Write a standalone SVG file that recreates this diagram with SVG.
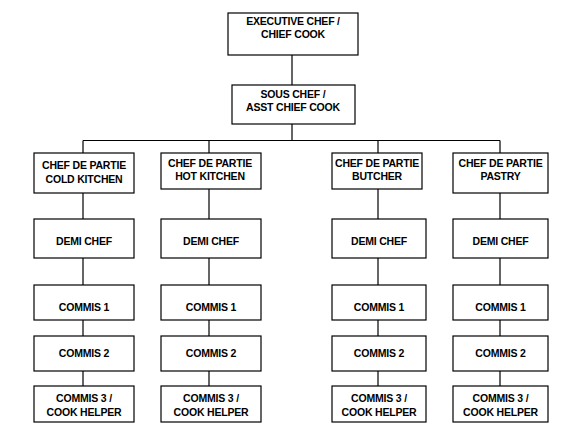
<svg xmlns="http://www.w3.org/2000/svg" width="568" height="433" viewBox="0 0 568 433">
<style>
.box{fill:#fff;stroke:#000;stroke-width:1.2}
.ln{stroke:#000;stroke-width:1.2;fill:none}
text{font-family:"Liberation Sans",Arial,sans-serif;font-weight:bold;font-size:10.5px;fill:#000;text-anchor:middle;letter-spacing:-0.2px}
</style>
<rect width="568" height="433" fill="#fff"/>
<g id="connectors">
<path class="ln" d="M292 55V85M292 124V140.5M83 140.5H500M83 140.5V153M209 140.5V153M378 140.5V153M500 140.5V153"/>
<path class="ln" d="M83 193V219M83 258V285M83 320V336M83 371V386"/>
<path class="ln" d="M209 189V219M209 258V285M209 320V336M209 371V386"/>
<path class="ln" d="M378 189V219M378 258V285M378 320V336M378 371V386"/>
<path class="ln" d="M500 193V219M500 258V285M500 320V336M500 371V386"/>
</g>
<g id="executive-chef"><rect class="box" x="228" y="13" width="130" height="42"/><text x="293" y="25">EXECUTIVE CHEF /</text><text x="293" y="38">CHIEF COOK</text></g>
<g id="sous-chef"><rect class="box" x="232" y="85" width="123" height="39"/><text x="293" y="97.5">SOUS CHEF /</text><text x="293" y="111">ASST CHIEF COOK</text></g>

<g id="cdp-cold"><rect class="box" x="34" y="153" width="100" height="40"/><text x="84" y="169">CHEF DE PARTIE</text><text x="84" y="183">COLD KITCHEN</text></g>
<g id="cdp-hot"><rect class="box" x="161" y="153" width="100" height="36"/><text x="210" y="166.5">CHEF DE PARTIE</text><text x="210" y="180">HOT KITCHEN</text></g>
<g id="cdp-butcher"><rect class="box" x="332" y="153" width="90" height="36"/><text x="377" y="166.5">CHEF DE PARTIE</text><text x="377" y="180">BUTCHER</text></g>
<g id="cdp-pastry"><rect class="box" x="453" y="153" width="95" height="40"/><text x="500.5" y="166.5">CHEF DE PARTIE</text><text x="500.5" y="180">PASTRY</text></g>

<g id="demi-cold"><rect class="box" x="34" y="219" width="100" height="39"/><text x="84" y="244.5">DEMI CHEF</text></g>
<g id="demi-hot"><rect class="box" x="161" y="219" width="100" height="39"/><text x="211" y="244.5">DEMI CHEF</text></g>
<g id="demi-butcher"><rect class="box" x="332" y="219" width="94" height="39"/><text x="379" y="244.5">DEMI CHEF</text></g>
<g id="demi-pastry"><rect class="box" x="453" y="219" width="95" height="39"/><text x="500.5" y="244.5">DEMI CHEF</text></g>

<g id="c1-cold"><rect class="box" x="34" y="285" width="100" height="35"/><text x="84" y="310.5">COMMIS 1</text></g>
<g id="c1-hot"><rect class="box" x="161" y="285" width="100" height="35"/><text x="211" y="310.5">COMMIS 1</text></g>
<g id="c1-butcher"><rect class="box" x="332" y="285" width="94" height="35"/><text x="379" y="310.5">COMMIS 1</text></g>
<g id="c1-pastry"><rect class="box" x="453" y="285" width="95" height="35"/><text x="500.5" y="310.5">COMMIS 1</text></g>

<g id="c2-cold"><rect class="box" x="34" y="336" width="100" height="35"/><text x="84" y="357.3">COMMIS 2</text></g>
<g id="c2-hot"><rect class="box" x="161" y="336" width="100" height="35"/><text x="211" y="357.3">COMMIS 2</text></g>
<g id="c2-butcher"><rect class="box" x="332" y="336" width="94" height="35"/><text x="379" y="357.3">COMMIS 2</text></g>
<g id="c2-pastry"><rect class="box" x="453" y="336" width="95" height="35"/><text x="500.5" y="357.3">COMMIS 2</text></g>

<g id="c3-cold"><rect class="box" x="34" y="386" width="100" height="36"/><text x="84" y="402">COMMIS 3 /</text><text x="84" y="415.7">COOK HELPER</text></g>
<g id="c3-hot"><rect class="box" x="161" y="386" width="100" height="36"/><text x="211" y="402">COMMIS 3 /</text><text x="211" y="415.7">COOK HELPER</text></g>
<g id="c3-butcher"><rect class="box" x="332" y="386" width="94" height="36"/><text x="379" y="402">COMMIS 3 /</text><text x="379" y="415.7">COOK HELPER</text></g>
<g id="c3-pastry"><rect class="box" x="453" y="386" width="95" height="36"/><text x="500.5" y="402">COMMIS 3 /</text><text x="500.5" y="415.7">COOK HELPER</text></g>
</svg>
